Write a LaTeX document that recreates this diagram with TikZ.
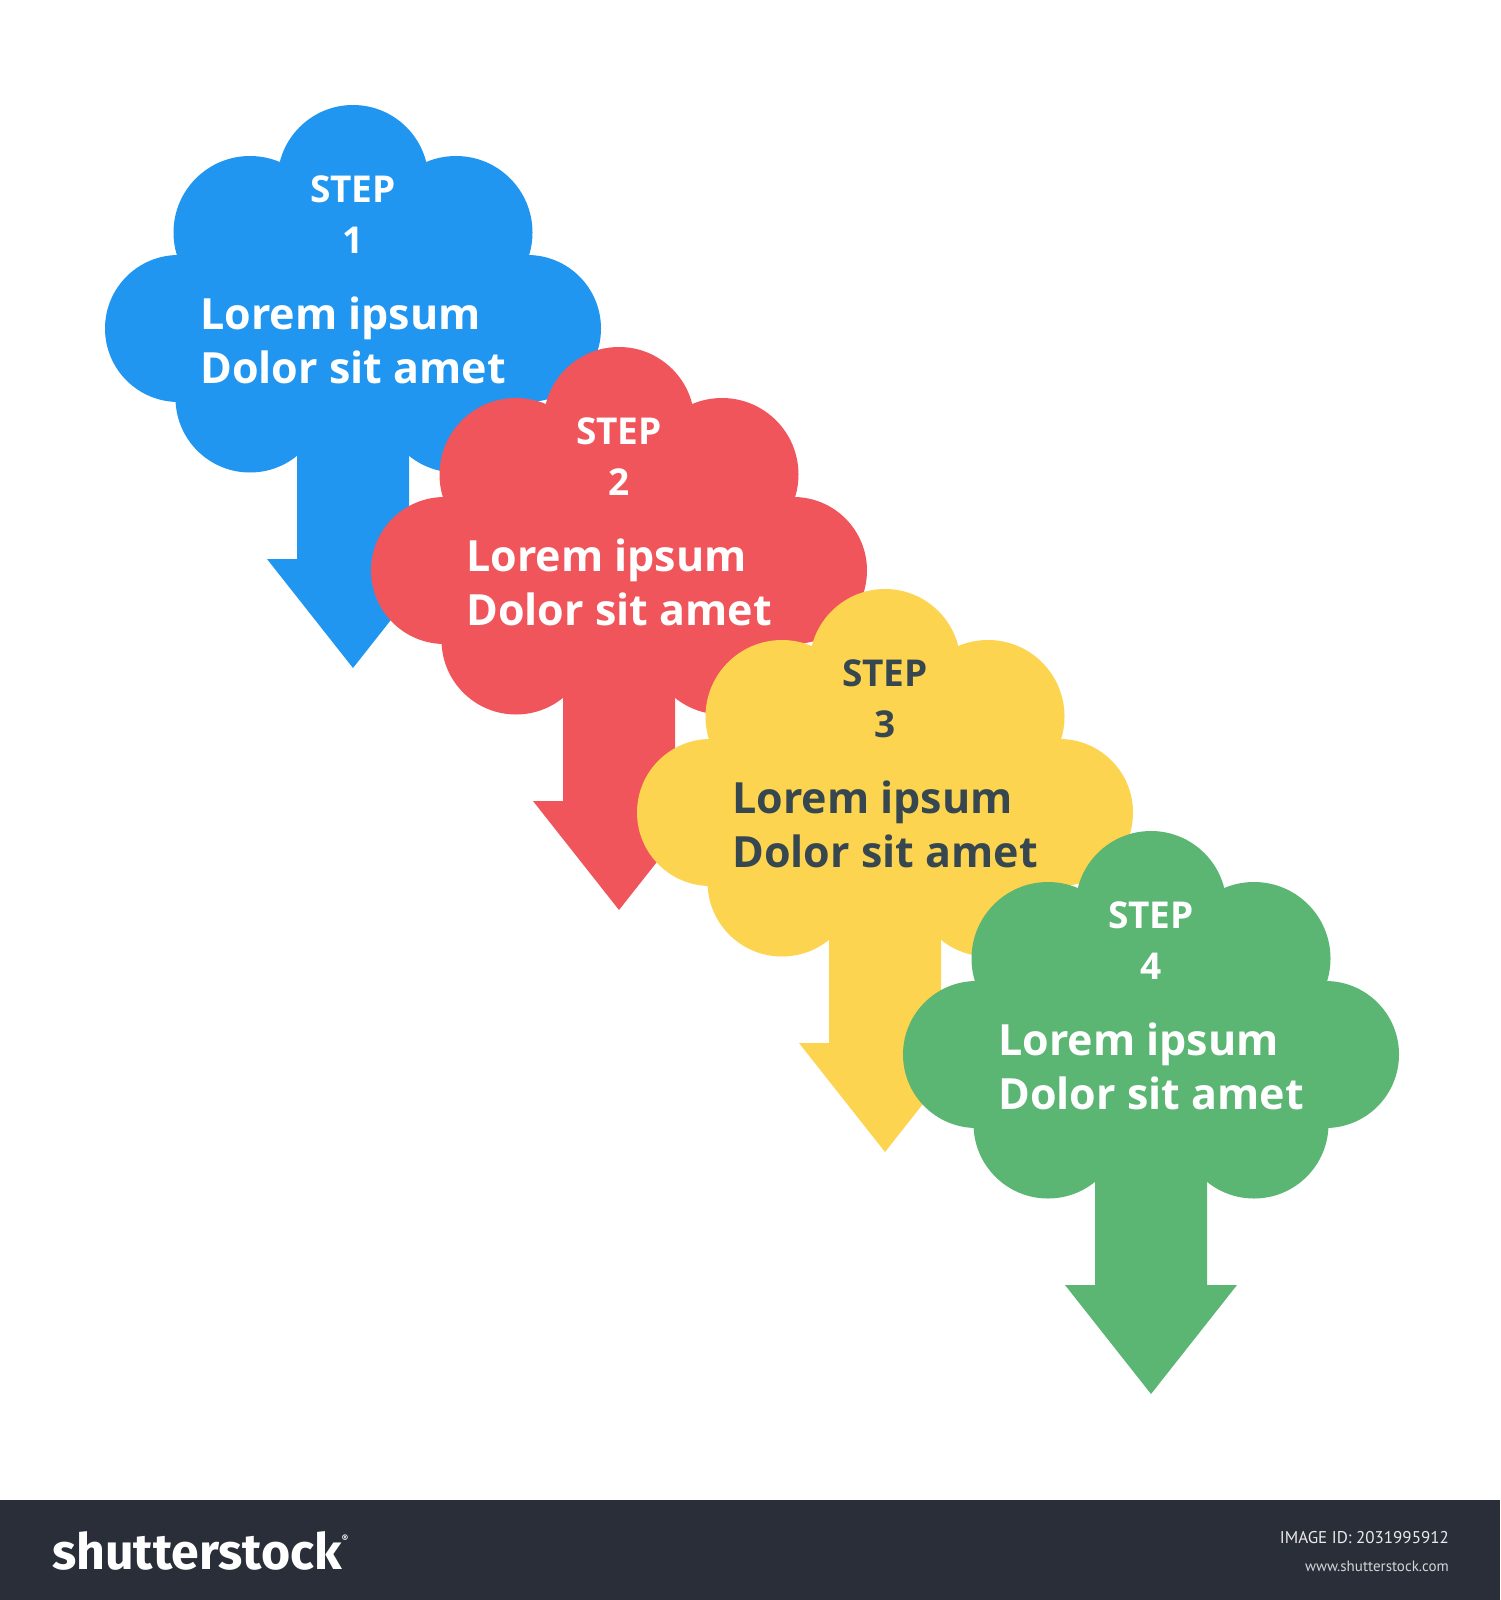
\documentclass[tikz,border=0pt]{standalone}
\usepackage{fontspec}
\setmainfont{Open Sans}
\newfontfamily\barfont{PT Sans}
\newfontfamily\logofont{Fira Sans}
\definecolor{cblue}{HTML}{2196F0}
\definecolor{cred}{HTML}{F0555B}
\definecolor{cyellow}{HTML}{FDD44F}
\definecolor{cgreen}{HTML}{5BB573}
\definecolor{cdark}{HTML}{37474F}
\definecolor{cbar}{HTML}{292E39}
\tikzset{
  steptext/.style={align=center, inner sep=0pt, font=\bfseries\fontsize{37}{51}\selectfont},
  bodytext/.style={align=left, inner sep=0pt, font=\bfseries\fontsize{43}{54}\selectfont},
}
\newcommand\stepblock[5]{%
  \begin{scope}[fill=#4]
  \fill (#2,{#3+75.5}) circle[radius=75.5];
  \fill ({#2-103},{#3+127.5}) circle[radius=76.5];
  \fill ({#2+103},{#3+127.5}) circle[radius=76.5];
  \fill ({#2-174.5},{#3+223.5}) circle[radius=73.5];
  \fill ({#2+174.5},{#3+223.5}) circle[radius=73.5];
  \fill ({#2-103},{#3+293}) circle[radius=74.5];
  \fill ({#2+103},{#3+293}) circle[radius=74.5];
  \fill ({#2-103},{#3+75.5}) rectangle ({#2+103},{#3+293});
  \fill ({#2-174.5},{#3+127.5}) rectangle ({#2+174.5},{#3+293});
  \fill ({#2-56},{#3+290}) -- ({#2-56},{#3+454}) -- ({#2-86},{#3+454})
      -- (#2,{#3+563}) -- ({#2+86},{#3+454}) -- ({#2+56},{#3+454})
      -- ({#2+56},{#3+290}) -- cycle;
  \end{scope}
  \node[steptext, text=#5] (step#1) at (#2,{#3+110}) {STEP\\#1};
  \node[bodytext, text=#5] (body#1) at (#2,{#3+235}) {Lorem ipsum\\Dolor sit amet};
}
\begin{document}
\begin{tikzpicture}[x=1pt,y=-1pt]
  \useasboundingbox (0,0) rectangle (1500,1600);
  \fill[white] (0,0) rectangle (1500,1600);
  \stepblock{1}{353}{105}{cblue}{white}
  \stepblock{2}{619}{347}{cred}{white}
  \stepblock{3}{885}{589}{cyellow}{cdark}
  \stepblock{4}{1151}{831}{cgreen}{white}
  \fill[cbar] (0,1500) rectangle (1500,1600);
  \node[anchor=west, text=white, inner sep=0pt, font=\logofont\bfseries\fontsize{50}{50}\selectfont] (logo) at (52,1551) {shutterstock\raisebox{0.55em}{\fontsize{10}{10}\selectfont\textregistered}};
  \node[anchor=east, text=white!90!cbar, inner sep=0pt, font=\barfont\fontsize{17}{17}\selectfont] (imgid) at (1449,1538) {IMAGE ID: 2031995912};
  \node[anchor=east, text=white!80!cbar, inner sep=0pt, font=\barfont\fontsize{15}{15}\selectfont] (www) at (1449,1566) {www.shutterstock.com};
\end{tikzpicture}
\end{document}
